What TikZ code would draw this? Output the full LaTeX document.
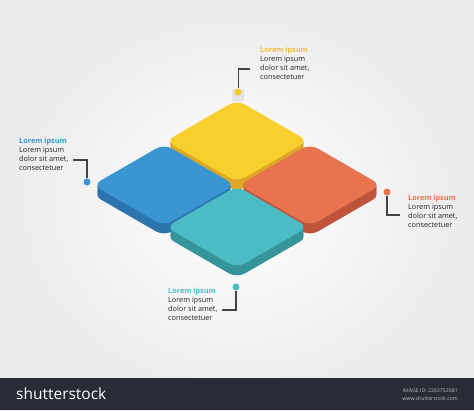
\documentclass[tikz,border=0pt]{standalone}
\usepackage{fontspec}
\setmainfont{Open Sans}
\usetikzlibrary{calc,positioning}

\definecolor{tileyellow}{HTML}{F9CF2F}
\definecolor{sideyellow}{HTML}{DCA726}
\definecolor{tileblue}{HTML}{3A95D2}
\definecolor{sideblue}{HTML}{2B74AE}
\definecolor{tilered}{HTML}{E8734F}
\definecolor{sidered}{HTML}{BF543C}
\definecolor{tileteal}{HTML}{4DBBC3}
\definecolor{sideteal}{HTML}{35959B}
\definecolor{textdark}{HTML}{222222}
\definecolor{titleyellow}{HTML}{F2C12E}
\definecolor{barcolor}{HTML}{272C36}

%% one isometric tile: centre x, centre y, face colour, side colour
\newcommand{\isotile}[4]{%
  \begin{scope}[shift={(#1,#2)}]
    \foreach \d in {10,9,...,1}
      \fill[#4, rounded corners=9pt] (-71,\d) -- (0,-41+\d) -- (71,\d) -- (0,41+\d) -- cycle;
    \fill[#3, rounded corners=9pt] (-71,0) -- (0,-41) -- (71,0) -- (0,41) -- cycle;
  \end{scope}}

\tikzset{
  lorem/.style={anchor=north west, align=left, inner sep=0pt, text=textdark,
    font=\fontsize{7.3}{9}\selectfont},
  calldot/.style={circle, inner sep=0pt, minimum size=7pt},
  leader/.style={draw=textdark!85, line width=1.1pt},
}

\begin{document}
\begin{tikzpicture}[x=1pt,y=-1pt]
  \useasboundingbox (0,0) rectangle (474,410);
  \shade[inner color=white, outer color=gray!16] (0,0) rectangle (474,410);

  %% tiles, back to front
  \isotile{237}{141}{tileyellow}{sideyellow}
  \isotile{164}{185}{tileblue}{sideblue}
  \isotile{310}{185}{tilered}{sidered}
  \isotile{237}{227}{tileteal}{sideteal}

  %% yellow callout
  \node[fill=gray!22, rounded corners=1.5pt, minimum size=12pt, inner sep=0pt] (yellowbase) at (238,95) {};
  \coordinate (yellowend) at (250,69);
  \draw[leader] (238.5,88) |- (yellowend);
  \node[calldot, fill=tileyellow!90!orange] (yellowdot) at (238,92) {};
  \node[lorem] (yellowtext) at (260,46.5)
    {{\bfseries\color{titleyellow}Lorem ipsum}\\Lorem ipsum\\dolor sit amet,\\consectetuer};

  %% blue callout
  \node[calldot, fill=tileblue] (bluedot) at (87,182) {};
  \coordinate (blueend) at (73,160);
  \draw[leader] (bluedot) |- (blueend);
  \node[lorem] (bluetext) at (19,137.5)
    {{\bfseries\color{tileblue}Lorem ipsum}\\Lorem ipsum\\dolor sit amet,\\consectetuer};

  %% red callout
  \node[calldot, fill=tilered] (reddot) at (387,192) {};
  \coordinate (redend) at (400,215);
  \draw[leader] (reddot) |- (redend);
  \node[lorem] (redtext) at (408,194.5)
    {{\bfseries\color{tilered}Lorem ipsum}\\Lorem ipsum\\dolor sit amet,\\consectetuer};

  %% teal callout
  \node[calldot, fill=tileteal] (tealdot) at (236,287) {};
  \coordinate (tealend) at (222,310);
  \draw[leader] (tealdot) |- (tealend);
  \node[lorem] (tealtext) at (168,287.5)
    {{\bfseries\color{tileteal}Lorem ipsum}\\Lorem ipsum\\dolor sit amet,\\consectetuer};

  %% bottom bar
  \fill[barcolor] (0,378) rectangle (474,410);
  \node[anchor=west, text=white, inner sep=0pt, font=\fontsize{15.5}{16}\selectfont] (brand) at (16,394) {shutterstock};
  \node[anchor=east, text=gray!55, inner sep=0pt, font=\fontsize{5.2}{6}\selectfont] (imgid) at (458,390.5) {IMAGE ID: 2263753581};
  \node[anchor=east, text=gray!55, inner sep=0pt, font=\fontsize{5.2}{6}\selectfont] (site) at (458,399) {www.shutterstock.com};
\end{tikzpicture}
\end{document}
